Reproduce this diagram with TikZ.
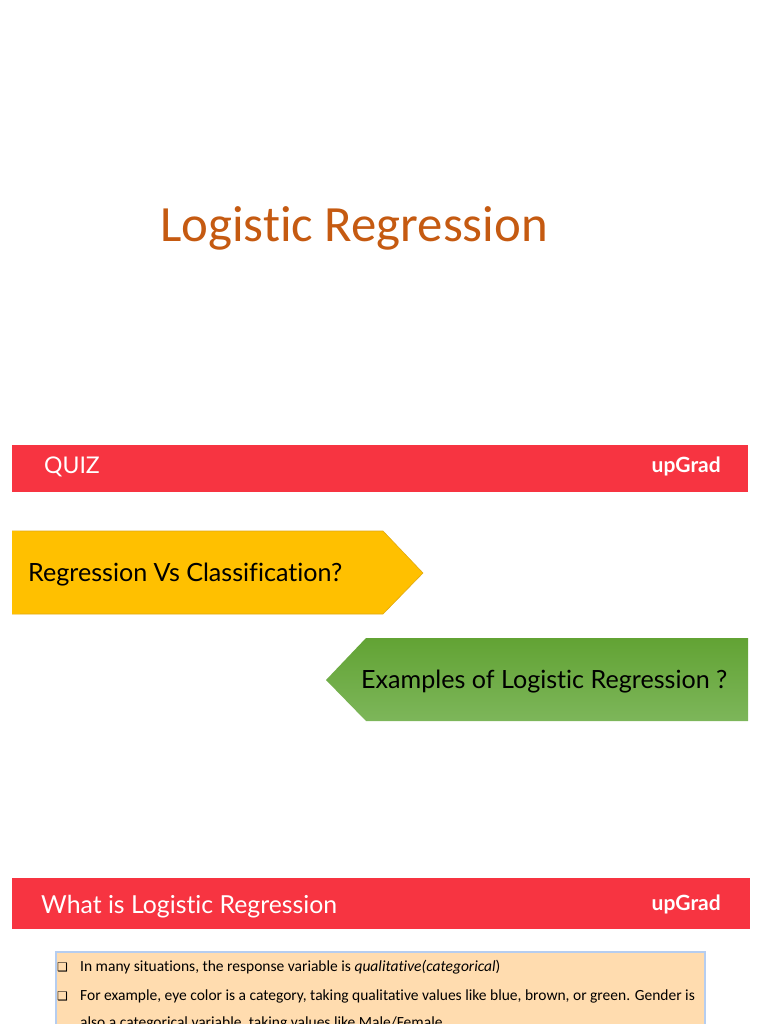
\documentclass[tikz,border=0pt]{standalone}
\usepackage{fontspec}
\setmainfont[Ligatures=NoCommon]{Carlito}
\newfontfamily\headfont[Ligatures=NoCommon]{Lato}
\newfontfamily\symfont{DejaVu Sans}
\definecolor{barred}{HTML}{F73441}
\definecolor{titleorange}{HTML}{C55A11}
\definecolor{arrowyellow}{HTML}{FFC000}
\definecolor{yellowedge}{HTML}{E0A810}
\definecolor{greentop}{HTML}{62A334}
\definecolor{greenbottom}{HTML}{7DB65A}
\definecolor{boxfill}{HTML}{FFDCAF}
\definecolor{boxedge}{HTML}{B5CDF0}
\begin{document}
\begin{tikzpicture}[x=1pt,y=-1pt]
\tikzstyle{barhead} = [white,font=\headfont\fontsize{23}{23}\selectfont,anchor=west,inner sep=0pt]
\tikzstyle{brand} = [white,font=\headfont\bfseries\fontsize{21}{21}\selectfont,anchor=east,inner sep=0pt]
\tikzstyle{asktext} = [black,font=\headfont\fontsize{25.1}{25.1}\selectfont,anchor=west,inner sep=0pt]
\tikzstyle{boxline} = [black,font=\fontsize{15.5}{15.5}\selectfont,anchor=base west,inner sep=0pt]
\tikzstyle{boxmark} = [black,font=\symfont\bfseries\fontsize{12}{12}\selectfont,anchor=base west,inner sep=0pt]
  \useasboundingbox (0,0) rectangle (768,1024);
  \clip (0,0) rectangle (768,1024);
  %title
  \node[titleorange,font=\fontsize{50.8}{50.8}\selectfont,anchor=base west,inner sep=0pt] (title) at (160,241) {Logistic Regression};
  %quiz bar
  \fill[barred] (12,445) rectangle (748,492);
  \node[barhead] (quiz) at (44,467) {QUIZ};
  \node[brand] (brandone) at (721,466) {upGrad};
  %arrows
  \draw[yellowedge,fill=arrowyellow,line width=0.6pt] (12,531) -- (383,531) -- (423,573) -- (383,614) -- (12,614);
  \fill[arrowyellow] (12,531.4) rectangle (20,613.6);
  \node[asktext] (regvs) at (28,575) {Regression Vs Classification?};
  \shade[top color=greentop,bottom color=greenbottom] (748,638) -- (366,638) -- (326,680) -- (366,721) -- (748,721) -- cycle;
  \node[asktext] (examples) at (361,682) {Examples of Logistic Regression ?};
  %second bar
  \fill[barred] (12,878) rectangle (750,929);
  \node[barhead,font=\headfont\fontsize{24.8}{24.8}\selectfont] (whatis) at (41,907) {What is Logistic Regression};
  \node[brand] (brandtwo) at (721,904) {upGrad};
  %text box
  \draw[boxedge,fill=boxfill,line width=1.2pt] (56,952) rectangle (705,1040);
  \node[boxmark] (markone) at (57,971) {❑};
  \node[boxline] (lineone) at (80,971) {In many situations, the response variable is \textit{qualitative(categorical})};
  \node[boxmark] (marktwo) at (57,1000) {❑};
  \node[boxline] (linetwo) at (80,1000) {For example, eye color is a category, taking qualitative values like blue, brown, or green. Gender is};
  \node[boxline] (linethree) at (80,1027) {also a categorical variable, taking values like Male/Female};
\end{tikzpicture}
\end{document}
